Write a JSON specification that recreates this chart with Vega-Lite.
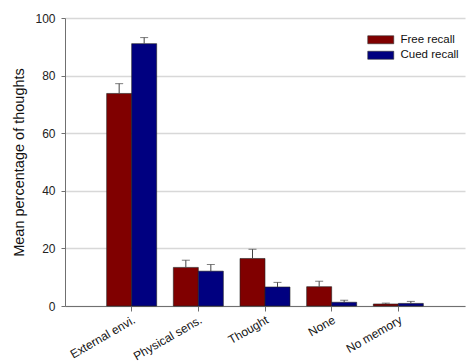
{
  "$schema": "https://vega.github.io/schema/vega-lite/v6.json",
  "autosize": {"type": "none"},
  "padding": {"left": 65, "top": 18, "right": 9, "bottom": 57},
  "width": 400,
  "height": 288,
  "background": "white",
  "config": {
    "font": "Liberation Sans",
    "view": {"stroke": null},
    "axis": {"labelFont": "Liberation Sans", "titleFont": "Liberation Sans"}
  },
  "data": {
    "values": [
      {"category": "External envi.", "condition": "Free recall", "mean": 73.8, "upper": 77.2},
      {"category": "External envi.", "condition": "Cued recall", "mean": 91.1, "upper": 93.2},
      {"category": "Physical sens.", "condition": "Free recall", "mean": 13.4, "upper": 15.9},
      {"category": "Physical sens.", "condition": "Cued recall", "mean": 12.1, "upper": 14.4},
      {"category": "Thought", "condition": "Free recall", "mean": 16.5, "upper": 19.7},
      {"category": "Thought", "condition": "Cued recall", "mean": 6.6, "upper": 8.2},
      {"category": "None", "condition": "Free recall", "mean": 6.7, "upper": 8.6},
      {"category": "None", "condition": "Cued recall", "mean": 1.3, "upper": 2.0},
      {"category": "No memory", "condition": "Free recall", "mean": 0.7, "upper": 1.0},
      {"category": "No memory", "condition": "Cued recall", "mean": 0.9, "upper": 1.6}
    ]
  },
  "encoding": {
    "x": {
      "field": "category",
      "type": "nominal",
      "sort": ["External envi.", "Physical sens.", "Thought", "None", "No memory"],
      "scale": {"paddingInner": 0.25, "paddingOuter": 0.625},
      "axis": {
        "title": null,
        "labelAngle": -30,
        "labelAlign": "right",
        "labelBaseline": "top",
        "labelFontSize": 12,
        "labelColor": "#111111",
        "labelPadding": 3,
        "labelOverlap": false,
        "tickSize": 5,
        "tickColor": "#707070",
        "domainColor": "#707070",
        "grid": false
      }
    },
    "xOffset": {
      "field": "condition",
      "type": "nominal",
      "sort": ["Free recall", "Cued recall"],
      "scale": {"paddingInner": 0, "paddingOuter": 0}
    }
  },
  "layer": [
    {
      "mark": {"type": "bar", "stroke": "#222222", "strokeWidth": 0.6},
      "encoding": {
        "y": {
          "field": "mean",
          "type": "quantitative",
          "scale": {"domain": [0, 100], "nice": false},
          "axis": {
            "title": "Mean percentage of thoughts",
            "titleFontSize": 14.5,
            "titleFontWeight": "normal",
            "titleColor": "#111111",
            "titlePadding": 8,
            "values": [0, 20, 40, 60, 80, 100],
            "labelFontSize": 12,
            "labelColor": "#222222",
            "labelPadding": 6,
            "tickSize": 4,
            "tickColor": "#707070",
            "domainColor": "#707070",
            "gridColor": "#d8d8d8",
            "gridWidth": 1.5
          }
        },
        "color": {
          "field": "condition",
          "type": "nominal",
          "sort": ["Free recall", "Cued recall"],
          "scale": {"domain": ["Free recall", "Cued recall"], "range": ["#800000", "#000080"]},
          "legend": {
            "title": null,
            "orient": "none",
            "legendX": 310,
            "legendY": 16,
            "padding": 0,
            "symbolType": "M-3.25,-1H3.25V1H-3.25Z",
            "symbolSize": 64,
            "symbolStrokeColor": "#333333",
            "symbolStrokeWidth": 0.6,
            "symbolOpacity": 1,
            "labelFontSize": 11.5,
            "labelColor": "#111111",
            "labelOffset": 14,
            "rowPadding": 2.5
          }
        }
      }
    },
    {
      "mark": {"type": "rule", "color": "#444444", "strokeWidth": 1},
      "encoding": {
        "y": {"field": "mean", "type": "quantitative"},
        "y2": {"field": "upper"}
      }
    },
    {
      "mark": {"type": "tick", "color": "#444444", "thickness": 1, "size": 8},
      "encoding": {
        "y": {"field": "upper", "type": "quantitative"}
      }
    }
  ]
}
